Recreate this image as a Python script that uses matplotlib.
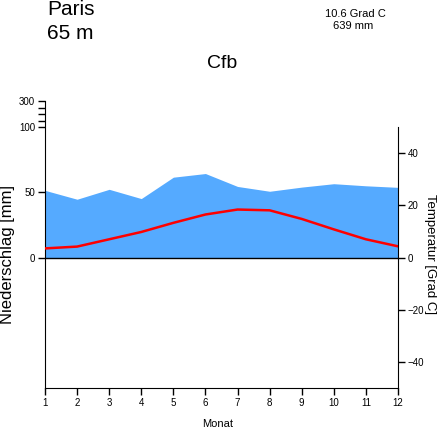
import numpy as np
import matplotlib
matplotlib.use("Agg")
import matplotlib.pyplot as plt

# === Klimadaten Paris ===
months = [1, 2, 3, 4, 5, 6, 7, 8, 9, 10, 11, 12]
precip = [51.5, 44.7, 52.3, 45.2, 61.6, 64.4, 54.5, 50.8, 54.0, 56.6, 55.0, 53.8]  # mm
temp = [3.5, 4.2, 7.0, 9.8, 13.3, 16.5, 18.4, 18.1, 14.8, 10.8, 7.0, 4.3]  # Grad C

station = "Paris"
height_txt = "65 m"
mean_txt = "10.6 Grad C"
sum_txt = "639 mm"
climate = "Cfb"

# linke Achse: bis 100 linear, darüber auf 1/10 gestaucht
p_ticks = [0, 50, 100, 150, 200, 250, 300]
p_labels = ["0", "50", "100", "", "", "", "300"]
t_ticks = [-40, -20, 0, 20, 40]


def squeeze(v):
    v = np.asarray(v, dtype=float)
    return np.where(v <= 100, v, 100 + (v - 100) / 10.0)


plt.rcParams['font.family'] = ['Liberation Sans', 'DejaVu Sans']

W, H = 439, 430
fig = plt.figure(figsize=(W / 100, H / 100), dpi=100)
ax = fig.add_axes([45 / W, 1 - 388 / H, (398 - 45) / W, (388 - 101) / H])

ax.fill_between(months, 0, squeeze(precip), color='#55aaff', lw=0, zorder=1)
ax.plot(months, np.array(temp) * 2, color='#ff0000', lw=1.8, zorder=3)

ax.set_xlim(1, 12)
ax.set_ylim(-100, 120)
ax.set_xticks(months)
ax.set_yticks(squeeze(p_ticks))
ax.set_yticklabels(p_labels)
ax.tick_params(labelsize=7, length=5, width=1, pad=2)
ax.spines['top'].set_visible(False)
ax.spines['right'].set_visible(False)
ax.axhline(0, color='black', lw=1, zorder=2)

ax2 = ax.twinx()
ax2.set_ylim(-50, 60)
ax2.set_yticks(t_ticks)
ax2.tick_params(labelsize=7, length=5, width=1, pad=2)
ax2.spines['top'].set_visible(False)
ax2.spines['left'].set_visible(False)
ax2.spines['bottom'].set_visible(False)
ax2.spines['right'].set_bounds(-50, 50)

# Achsenbeschriftungen
fig.text(8 / W, 1 - 254 / H, "Niederschlag [mm]", fontsize=12, rotation=90,
         ha='center', va='center')
fig.text(430 / W, 1 - 254 / H, "Temperatur [Grad C]", fontsize=9.5, rotation=-90,
         ha='center', va='center')
fig.text(218 / W, 1 - 427 / H, "Monat", fontsize=8, ha='center', va='baseline')

# Kopfzeile
fig.text(47 / W, 1 - 15 / H, station, fontsize=15, va='baseline')
fig.text(47 / W, 1 - 39 / H, height_txt, fontsize=15, va='baseline')
fig.text(325 / W, 1 - 17 / H, mean_txt, fontsize=8, va='baseline')
fig.text(333 / W, 1 - 29.2 / H, sum_txt, fontsize=8, va='baseline')
fig.text(222 / W, 1 - 68 / H, climate, fontsize=14, va='baseline', ha='center')

fig.savefig("out.png", dpi=100)
